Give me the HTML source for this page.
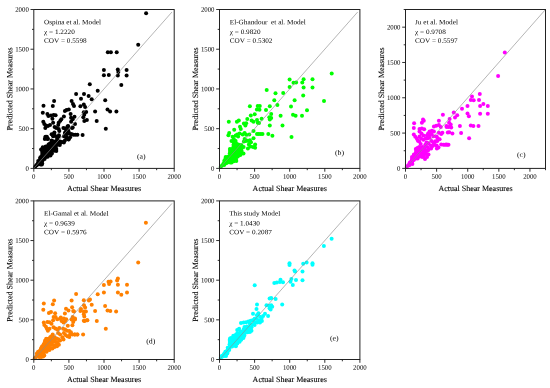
<!DOCTYPE html>
<html><head><meta charset="utf-8"><title>Predicted vs Actual Shear Measures</title>
<style>
html,body{margin:0;padding:0;background:#fff;}
svg{display:block;}
text{font-family:"Liberation Serif","Times New Roman",serif;fill:#000;stroke:none;text-rendering:geometricPrecision;}
.tk{font-size:6.8px;}
.ax{font-size:8px;stroke:#000;stroke-width:0.1px;}
.tt{font-size:6.7px;}
.lb{font-size:7.4px;}
</style></head><body>
<svg width="550" height="388" viewBox="0 0 550 388">
<rect width="550" height="388" fill="#fff"/>

<g id="plot-a">
<g fill="#000000">
<circle cx="146.1" cy="13.2" r="2.0"/>
<circle cx="138.2" cy="44.8" r="2.0"/>
<circle cx="116.7" cy="52.2" r="2.0"/>
<circle cx="117.8" cy="69.6" r="2.0"/>
<circle cx="118.3" cy="71.9" r="2.0"/>
<circle cx="126.6" cy="70.1" r="2.0"/>
<circle cx="117.8" cy="75.4" r="2.0"/>
<circle cx="126.6" cy="75.4" r="2.0"/>
<circle cx="121.3" cy="85.1" r="2.0"/>
<circle cx="116.4" cy="111.4" r="2.0"/>
<circle cx="107.8" cy="52.3" r="2.0"/>
<circle cx="110.9" cy="52.3" r="2.0"/>
<circle cx="103.9" cy="70.1" r="2.0"/>
<circle cx="103.9" cy="75.3" r="2.0"/>
<circle cx="108.8" cy="74.9" r="2.0"/>
<circle cx="89.8" cy="84.2" r="2.0"/>
<circle cx="97.7" cy="90.8" r="2.0"/>
<circle cx="76.1" cy="93.9" r="2.0"/>
<circle cx="84.0" cy="93.9" r="2.0"/>
<circle cx="88.6" cy="96.0" r="2.0"/>
<circle cx="81.0" cy="98.8" r="2.0"/>
<circle cx="91.7" cy="99.3" r="2.0"/>
<circle cx="105.2" cy="100.3" r="2.0"/>
<circle cx="83.8" cy="104.4" r="2.0"/>
<circle cx="85.1" cy="107.0" r="2.0"/>
<circle cx="80.4" cy="106.3" r="2.0"/>
<circle cx="74.0" cy="106.0" r="2.0"/>
<circle cx="107.5" cy="109.6" r="2.0"/>
<circle cx="110.1" cy="111.6" r="2.0"/>
<circle cx="95.1" cy="111.6" r="2.0"/>
<circle cx="83.8" cy="112.2" r="2.0"/>
<circle cx="86.2" cy="111.9" r="2.0"/>
<circle cx="84.3" cy="114.7" r="2.0"/>
<circle cx="83.3" cy="117.3" r="2.0"/>
<circle cx="74.5" cy="116.8" r="2.0"/>
<circle cx="86.9" cy="120.1" r="2.0"/>
<circle cx="84.3" cy="121.1" r="2.0"/>
<circle cx="96.7" cy="121.1" r="2.0"/>
<circle cx="75.0" cy="124.0" r="2.0"/>
<circle cx="105.8" cy="128.7" r="2.0"/>
<circle cx="54.1" cy="101.1" r="2.0"/>
<circle cx="43.5" cy="105.7" r="2.0"/>
<circle cx="52.8" cy="106.0" r="2.0"/>
<circle cx="71.6" cy="101.1" r="2.0"/>
<circle cx="73.0" cy="103.9" r="2.0"/>
<circle cx="64.9" cy="111.1" r="2.0"/>
<circle cx="66.5" cy="110.1" r="2.0"/>
<circle cx="68.8" cy="109.4" r="2.0"/>
<circle cx="82.6" cy="135.0" r="2.0"/>
<circle cx="77.4" cy="134.8" r="2.0"/>
<circle cx="75.3" cy="134.8" r="2.0"/>
<circle cx="73.3" cy="134.8" r="2.0"/>
<circle cx="71.2" cy="134.3" r="2.0"/>
<circle cx="72.0" cy="128.1" r="2.0"/>
<circle cx="68.1" cy="126.0" r="2.0"/>
<circle cx="68.6" cy="139.4" r="2.0"/>
<circle cx="66.1" cy="137.4" r="2.0"/>
<circle cx="68.6" cy="131.7" r="2.0"/>
<circle cx="65.0" cy="128.6" r="2.0"/>
<circle cx="65.5" cy="132.2" r="2.0"/>
<circle cx="66.6" cy="134.3" r="2.0"/>
<circle cx="42.8" cy="112.8" r="2.0"/>
<circle cx="47.4" cy="114.1" r="2.0"/>
<circle cx="70.6" cy="114.1" r="2.0"/>
<circle cx="48.4" cy="116.1" r="2.0"/>
<circle cx="51.0" cy="115.6" r="2.0"/>
<circle cx="53.6" cy="115.1" r="2.0"/>
<circle cx="55.6" cy="115.3" r="2.0"/>
<circle cx="63.9" cy="116.6" r="2.0"/>
<circle cx="61.3" cy="119.2" r="2.0"/>
<circle cx="60.3" cy="120.8" r="2.0"/>
<circle cx="52.4" cy="118.7" r="2.0"/>
<circle cx="71.1" cy="117.7" r="2.0"/>
<circle cx="72.7" cy="119.2" r="2.0"/>
<circle cx="43.3" cy="121.8" r="2.0"/>
<circle cx="44.3" cy="123.9" r="2.0"/>
<circle cx="45.9" cy="125.4" r="2.0"/>
<circle cx="47.9" cy="125.9" r="2.0"/>
<circle cx="50.0" cy="124.9" r="2.0"/>
<circle cx="53.1" cy="122.8" r="2.0"/>
<circle cx="58.7" cy="122.8" r="2.0"/>
<circle cx="58.2" cy="124.9" r="2.0"/>
<circle cx="67.5" cy="126.4" r="2.0"/>
<circle cx="71.1" cy="121.8" r="2.0"/>
<circle cx="45.3" cy="128.0" r="2.0"/>
<circle cx="54.6" cy="126.9" r="2.0"/>
<circle cx="56.2" cy="128.0" r="2.0"/>
<circle cx="58.7" cy="129.0" r="2.0"/>
<circle cx="63.4" cy="128.0" r="2.0"/>
<circle cx="68.0" cy="126.9" r="2.0"/>
<circle cx="72.7" cy="127.5" r="2.0"/>
<circle cx="59.3" cy="131.1" r="2.0"/>
<circle cx="68.0" cy="130.0" r="2.0"/>
<circle cx="66.0" cy="131.6" r="2.0"/>
<circle cx="54.1" cy="133.6" r="2.0"/>
<circle cx="64.9" cy="133.1" r="2.0"/>
<circle cx="69.1" cy="133.6" r="2.0"/>
<circle cx="71.6" cy="134.2" r="2.0"/>
<circle cx="46.9" cy="136.7" r="2.0"/>
<circle cx="44.8" cy="139.0" r="2.0"/>
<circle cx="53.1" cy="136.2" r="2.0"/>
<circle cx="58.7" cy="136.7" r="2.0"/>
<circle cx="63.9" cy="136.2" r="2.0"/>
<circle cx="67.0" cy="137.8" r="2.0"/>
<circle cx="70.1" cy="137.3" r="2.0"/>
<circle cx="64.9" cy="140.4" r="2.0"/>
<circle cx="68.5" cy="139.3" r="2.0"/>
<circle cx="63.9" cy="142.4" r="2.0"/>
<circle cx="51.9" cy="141.1" r="2.0"/>
<circle cx="53.9" cy="141.5" r="2.0"/>
<circle cx="56.5" cy="140.9" r="2.0"/>
<circle cx="57.8" cy="140.8" r="2.0"/>
<circle cx="60.2" cy="141.4" r="2.0"/>
<circle cx="50.3" cy="143.2" r="2.0"/>
<circle cx="52.2" cy="142.6" r="2.0"/>
<circle cx="54.5" cy="143.4" r="2.0"/>
<circle cx="56.6" cy="143.3" r="2.0"/>
<circle cx="58.6" cy="143.4" r="2.0"/>
<circle cx="60.2" cy="142.9" r="2.0"/>
<circle cx="48.3" cy="145.0" r="2.0"/>
<circle cx="50.3" cy="145.3" r="2.0"/>
<circle cx="51.9" cy="145.2" r="2.0"/>
<circle cx="53.8" cy="144.7" r="2.0"/>
<circle cx="56.5" cy="144.8" r="2.0"/>
<circle cx="58.5" cy="144.6" r="2.0"/>
<circle cx="45.7" cy="146.5" r="2.0"/>
<circle cx="48.7" cy="146.7" r="2.0"/>
<circle cx="49.8" cy="146.7" r="2.0"/>
<circle cx="52.5" cy="147.4" r="2.0"/>
<circle cx="53.7" cy="146.9" r="2.0"/>
<circle cx="55.8" cy="146.8" r="2.0"/>
<circle cx="44.4" cy="149.5" r="2.0"/>
<circle cx="45.8" cy="149.2" r="2.0"/>
<circle cx="48.5" cy="148.8" r="2.0"/>
<circle cx="50.0" cy="149.1" r="2.0"/>
<circle cx="52.1" cy="148.7" r="2.0"/>
<circle cx="54.2" cy="148.9" r="2.0"/>
<circle cx="56.3" cy="149.0" r="2.0"/>
<circle cx="42.1" cy="150.8" r="2.0"/>
<circle cx="44.1" cy="151.4" r="2.0"/>
<circle cx="46.3" cy="151.1" r="2.0"/>
<circle cx="48.4" cy="150.9" r="2.0"/>
<circle cx="50.1" cy="151.2" r="2.0"/>
<circle cx="51.7" cy="150.7" r="2.0"/>
<circle cx="54.0" cy="150.7" r="2.0"/>
<circle cx="56.3" cy="150.9" r="2.0"/>
<circle cx="42.2" cy="153.1" r="2.0"/>
<circle cx="44.5" cy="153.4" r="2.0"/>
<circle cx="46.2" cy="152.8" r="2.0"/>
<circle cx="48.2" cy="153.3" r="2.0"/>
<circle cx="50.6" cy="153.3" r="2.0"/>
<circle cx="51.9" cy="153.5" r="2.0"/>
<circle cx="42.0" cy="155.5" r="2.0"/>
<circle cx="43.8" cy="155.4" r="2.0"/>
<circle cx="46.1" cy="154.6" r="2.0"/>
<circle cx="48.0" cy="155.0" r="2.0"/>
<circle cx="50.5" cy="155.4" r="2.0"/>
<circle cx="40.4" cy="157.2" r="2.0"/>
<circle cx="42.6" cy="157.1" r="2.0"/>
<circle cx="44.1" cy="157.0" r="2.0"/>
<circle cx="45.9" cy="157.1" r="2.0"/>
<circle cx="47.7" cy="156.7" r="2.0"/>
<circle cx="40.1" cy="158.8" r="2.0"/>
<circle cx="42.1" cy="158.6" r="2.0"/>
<circle cx="44.6" cy="159.0" r="2.0"/>
<circle cx="38.2" cy="160.9" r="2.0"/>
<circle cx="40.2" cy="161.1" r="2.0"/>
<circle cx="42.4" cy="160.9" r="2.0"/>
<circle cx="37.9" cy="163.5" r="2.0"/>
<circle cx="40.7" cy="162.6" r="2.0"/>
<circle cx="42.1" cy="163.2" r="2.0"/>
<circle cx="36.4" cy="165.3" r="2.0"/>
<circle cx="37.8" cy="164.6" r="2.0"/>
<circle cx="40.6" cy="164.5" r="2.0"/>
<circle cx="41.9" cy="164.5" r="2.0"/>
<circle cx="45.8" cy="136.8" r="2.0"/>
<circle cx="47.4" cy="139.1" r="2.0"/>
<circle cx="41.1" cy="149.6" r="2.0"/>
<circle cx="42.8" cy="147.3" r="2.0"/>
<circle cx="45.3" cy="137.0" r="2.0"/>
<circle cx="48.0" cy="138.8" r="2.0"/>
<circle cx="51.6" cy="134.3" r="2.0"/>
<circle cx="54.4" cy="132.5" r="2.0"/>
<circle cx="55.3" cy="136.1" r="2.0"/>
<circle cx="51.6" cy="140.6" r="2.0"/>
<circle cx="48.9" cy="144.2" r="2.0"/>
<circle cx="46.2" cy="147.3" r="2.0"/>
<circle cx="53.5" cy="143.3" r="2.0"/>
<circle cx="57.1" cy="138.8" r="2.0"/>
<circle cx="58.9" cy="135.2" r="2.0"/>
<circle cx="35.0" cy="167.0" r="2.0"/>
<circle cx="36.3" cy="165.6" r="2.0"/>
<circle cx="37.6" cy="164.1" r="2.0"/>
<circle cx="38.9" cy="162.6" r="2.0"/>
<circle cx="40.2" cy="161.2" r="2.0"/>
<circle cx="41.5" cy="159.7" r="2.0"/>
<circle cx="59.8" cy="145.1" r="2.0"/>
<circle cx="62.1" cy="141.9" r="2.0"/>
</g>
<line x1="33.8" y1="168.4" x2="171.95" y2="12.04" stroke="#8c8c8c" stroke-width="0.65"/>
<rect x="33.8" y="9.5" width="140.4" height="158.9" fill="none" stroke="#222" stroke-width="1"/>
<text class="tk" transform="translate(33.80 178.70) rotate(0.03)" text-anchor="middle">0</text>
<text class="tk" transform="translate(28.80 170.70) rotate(0.03)" text-anchor="end">0</text>
<text class="tk" transform="translate(68.90 178.70) rotate(0.03)" text-anchor="middle">500</text>
<text class="tk" transform="translate(28.80 130.98) rotate(0.03)" text-anchor="end">500</text>
<text class="tk" transform="translate(104.00 178.70) rotate(0.03)" text-anchor="middle">1000</text>
<text class="tk" transform="translate(28.80 91.25) rotate(0.03)" text-anchor="end">1000</text>
<text class="tk" transform="translate(139.10 178.70) rotate(0.03)" text-anchor="middle">1500</text>
<text class="tk" transform="translate(28.80 51.52) rotate(0.03)" text-anchor="end">1500</text>
<text class="tk" transform="translate(174.20 178.70) rotate(0.03)" text-anchor="middle">2000</text>
<text class="tk" transform="translate(28.80 11.80) rotate(0.03)" text-anchor="end">2000</text>
<path d="M33.80 168.4v3.3M33.8 168.40h-3.3M51.35 168.4v1.8M33.8 148.54h-1.8M68.90 168.4v3.3M33.8 128.68h-3.3M86.45 168.4v1.8M33.8 108.81h-1.8M104.00 168.4v3.3M33.8 88.95h-3.3M121.55 168.4v1.8M33.8 69.09h-1.8M139.10 168.4v3.3M33.8 49.22h-3.3M156.65 168.4v1.8M33.8 29.36h-1.8M174.20 168.4v3.3M33.8 9.50h-3.3" stroke="#1a1a1a" stroke-width="0.9" fill="none"/>
<text class="ax" transform="translate(104.00 191.00) rotate(0.03)" text-anchor="middle">Actual Shear Measures</text>
<text class="ax" transform="translate(12.30 88.95) rotate(-89.97)" text-anchor="middle">Predicted Shear Measures</text>
<text class="tt" transform="translate(44.00 24.20) rotate(0.03) scale(1.08 1)" xml:space="preserve">Ospina et al. Model</text>
<text class="tt" transform="translate(44.00 34.10) rotate(0.03) scale(1.08 1)">χ = 1.2220</text>
<text class="tt" transform="translate(44.00 42.80) rotate(0.03) scale(1.08 1)">COV = 0.5598</text>
<text class="lb" transform="translate(137.00 158.70) rotate(0.03) scale(1.06 1)">(a)</text>
</g>
<g id="plot-b">
<g fill="#00ff00">
<circle cx="249.9" cy="140.3" r="2.0"/>
<circle cx="251.0" cy="142.2" r="2.0"/>
<circle cx="255.1" cy="144.4" r="2.0"/>
<circle cx="255.1" cy="147.7" r="2.0"/>
<circle cx="253.0" cy="147.0" r="2.0"/>
<circle cx="250.4" cy="146.5" r="2.0"/>
<circle cx="248.9" cy="144.4" r="2.0"/>
<circle cx="247.9" cy="148.6" r="2.0"/>
<circle cx="249.9" cy="106.2" r="2.0"/>
<circle cx="257.7" cy="106.0" r="2.0"/>
<circle cx="256.9" cy="109.6" r="2.0"/>
<circle cx="266.7" cy="90.0" r="2.0"/>
<circle cx="275.5" cy="93.3" r="2.0"/>
<circle cx="283.2" cy="92.9" r="2.0"/>
<circle cx="274.3" cy="100.3" r="2.0"/>
<circle cx="294.6" cy="100.3" r="2.0"/>
<circle cx="277.4" cy="104.9" r="2.0"/>
<circle cx="269.8" cy="106.2" r="2.0"/>
<circle cx="291.0" cy="106.5" r="2.0"/>
<circle cx="259.8" cy="106.0" r="2.0"/>
<circle cx="259.5" cy="109.8" r="2.0"/>
<circle cx="266.0" cy="109.9" r="2.0"/>
<circle cx="271.2" cy="113.9" r="2.0"/>
<circle cx="280.6" cy="115.8" r="2.0"/>
<circle cx="293.0" cy="114.7" r="2.0"/>
<circle cx="295.6" cy="115.8" r="2.0"/>
<circle cx="269.3" cy="117.3" r="2.0"/>
<circle cx="271.2" cy="118.0" r="2.0"/>
<circle cx="269.8" cy="119.4" r="2.0"/>
<circle cx="261.6" cy="118.7" r="2.0"/>
<circle cx="269.8" cy="125.6" r="2.0"/>
<circle cx="282.5" cy="125.6" r="2.0"/>
<circle cx="259.0" cy="123.0" r="2.0"/>
<circle cx="289.6" cy="79.6" r="2.0"/>
<circle cx="293.5" cy="82.8" r="2.0"/>
<circle cx="296.1" cy="82.5" r="2.0"/>
<circle cx="289.6" cy="87.1" r="2.0"/>
<circle cx="254.7" cy="114.3" r="2.0"/>
<circle cx="250.8" cy="115.5" r="2.0"/>
<circle cx="247.3" cy="119.0" r="2.0"/>
<circle cx="228.8" cy="121.7" r="2.0"/>
<circle cx="236.9" cy="121.7" r="2.0"/>
<circle cx="238.8" cy="120.5" r="2.0"/>
<circle cx="251.6" cy="120.5" r="2.0"/>
<circle cx="253.5" cy="121.7" r="2.0"/>
<circle cx="257.0" cy="120.1" r="2.0"/>
<circle cx="257.8" cy="122.8" r="2.0"/>
<circle cx="243.9" cy="123.6" r="2.0"/>
<circle cx="246.2" cy="123.2" r="2.0"/>
<circle cx="245.4" cy="125.5" r="2.0"/>
<circle cx="240.0" cy="126.7" r="2.0"/>
<circle cx="240.8" cy="129.0" r="2.0"/>
<circle cx="234.2" cy="129.8" r="2.0"/>
<circle cx="253.5" cy="130.9" r="2.0"/>
<circle cx="229.2" cy="132.9" r="2.0"/>
<circle cx="228.4" cy="135.2" r="2.0"/>
<circle cx="237.3" cy="134.4" r="2.0"/>
<circle cx="239.6" cy="133.6" r="2.0"/>
<circle cx="235.7" cy="135.6" r="2.0"/>
<circle cx="238.1" cy="136.4" r="2.0"/>
<circle cx="244.6" cy="132.9" r="2.0"/>
<circle cx="242.7" cy="134.4" r="2.0"/>
<circle cx="246.2" cy="134.8" r="2.0"/>
<circle cx="249.3" cy="134.4" r="2.0"/>
<circle cx="257.0" cy="134.0" r="2.0"/>
<circle cx="232.6" cy="136.7" r="2.0"/>
<circle cx="233.8" cy="139.1" r="2.0"/>
<circle cx="235.0" cy="141.0" r="2.0"/>
<circle cx="253.5" cy="138.3" r="2.0"/>
<circle cx="244.6" cy="139.1" r="2.0"/>
<circle cx="246.6" cy="140.6" r="2.0"/>
<circle cx="248.5" cy="141.0" r="2.0"/>
<circle cx="231.5" cy="141.0" r="2.0"/>
<circle cx="233.7" cy="141.4" r="2.0"/>
<circle cx="235.6" cy="141.1" r="2.0"/>
<circle cx="243.9" cy="141.4" r="2.0"/>
<circle cx="245.5" cy="141.1" r="2.0"/>
<circle cx="233.9" cy="142.6" r="2.0"/>
<circle cx="236.2" cy="143.4" r="2.0"/>
<circle cx="233.5" cy="144.7" r="2.0"/>
<circle cx="236.2" cy="144.8" r="2.0"/>
<circle cx="238.2" cy="144.6" r="2.0"/>
<circle cx="239.5" cy="145.2" r="2.0"/>
<circle cx="241.4" cy="145.1" r="2.0"/>
<circle cx="233.5" cy="146.8" r="2.0"/>
<circle cx="235.6" cy="147.1" r="2.0"/>
<circle cx="237.8" cy="146.7" r="2.0"/>
<circle cx="239.9" cy="146.5" r="2.0"/>
<circle cx="241.5" cy="147.5" r="2.0"/>
<circle cx="243.6" cy="146.9" r="2.0"/>
<circle cx="229.9" cy="148.9" r="2.0"/>
<circle cx="232.0" cy="149.0" r="2.0"/>
<circle cx="233.7" cy="148.9" r="2.0"/>
<circle cx="236.2" cy="148.8" r="2.0"/>
<circle cx="238.0" cy="148.5" r="2.0"/>
<circle cx="240.1" cy="148.8" r="2.0"/>
<circle cx="241.4" cy="148.8" r="2.0"/>
<circle cx="230.0" cy="150.9" r="2.0"/>
<circle cx="232.3" cy="151.1" r="2.0"/>
<circle cx="233.8" cy="150.9" r="2.0"/>
<circle cx="236.1" cy="150.9" r="2.0"/>
<circle cx="238.1" cy="150.5" r="2.0"/>
<circle cx="239.8" cy="150.8" r="2.0"/>
<circle cx="241.6" cy="151.0" r="2.0"/>
<circle cx="229.8" cy="153.2" r="2.0"/>
<circle cx="231.7" cy="152.7" r="2.0"/>
<circle cx="234.1" cy="152.5" r="2.0"/>
<circle cx="236.2" cy="153.0" r="2.0"/>
<circle cx="237.5" cy="152.6" r="2.0"/>
<circle cx="240.0" cy="153.4" r="2.0"/>
<circle cx="241.7" cy="153.5" r="2.0"/>
<circle cx="243.5" cy="153.4" r="2.0"/>
<circle cx="230.1" cy="155.1" r="2.0"/>
<circle cx="232.3" cy="155.4" r="2.0"/>
<circle cx="234.3" cy="154.5" r="2.0"/>
<circle cx="236.1" cy="155.2" r="2.0"/>
<circle cx="238.1" cy="155.2" r="2.0"/>
<circle cx="240.3" cy="155.1" r="2.0"/>
<circle cx="225.7" cy="156.9" r="2.0"/>
<circle cx="227.9" cy="156.8" r="2.0"/>
<circle cx="229.9" cy="156.7" r="2.0"/>
<circle cx="231.4" cy="156.7" r="2.0"/>
<circle cx="233.9" cy="156.6" r="2.0"/>
<circle cx="235.8" cy="156.8" r="2.0"/>
<circle cx="237.8" cy="156.6" r="2.0"/>
<circle cx="225.5" cy="158.6" r="2.0"/>
<circle cx="228.1" cy="158.6" r="2.0"/>
<circle cx="229.4" cy="158.9" r="2.0"/>
<circle cx="231.9" cy="158.9" r="2.0"/>
<circle cx="233.9" cy="159.1" r="2.0"/>
<circle cx="236.1" cy="158.9" r="2.0"/>
<circle cx="224.3" cy="160.7" r="2.0"/>
<circle cx="225.5" cy="160.7" r="2.0"/>
<circle cx="227.8" cy="161.0" r="2.0"/>
<circle cx="229.6" cy="161.5" r="2.0"/>
<circle cx="232.4" cy="160.6" r="2.0"/>
<circle cx="233.8" cy="161.2" r="2.0"/>
<circle cx="236.3" cy="161.0" r="2.0"/>
<circle cx="224.2" cy="163.1" r="2.0"/>
<circle cx="226.1" cy="163.3" r="2.0"/>
<circle cx="227.5" cy="162.6" r="2.0"/>
<circle cx="230.3" cy="162.5" r="2.0"/>
<circle cx="231.6" cy="162.5" r="2.0"/>
<circle cx="224.2" cy="165.0" r="2.0"/>
<circle cx="258.7" cy="133.9" r="2.0"/>
<circle cx="260.6" cy="133.9" r="2.0"/>
<circle cx="262.5" cy="133.9" r="2.0"/>
<circle cx="268.3" cy="133.9" r="2.0"/>
<circle cx="272.4" cy="135.7" r="2.0"/>
<circle cx="291.5" cy="137.1" r="2.0"/>
<circle cx="331.7" cy="73.5" r="2.0"/>
<circle cx="303.6" cy="79.3" r="2.0"/>
<circle cx="302.3" cy="82.4" r="2.0"/>
<circle cx="312.5" cy="79.3" r="2.0"/>
<circle cx="303.6" cy="87.5" r="2.0"/>
<circle cx="312.5" cy="87.4" r="2.0"/>
<circle cx="303.2" cy="95.6" r="2.0"/>
<circle cx="324.0" cy="101.0" r="2.0"/>
<circle cx="307.0" cy="110.3" r="2.0"/>
<circle cx="302.0" cy="115.7" r="2.0"/>
<circle cx="220.7" cy="167.0" r="2.0"/>
<circle cx="222.0" cy="165.6" r="2.0"/>
<circle cx="223.3" cy="164.1" r="2.0"/>
<circle cx="224.6" cy="162.6" r="2.0"/>
<circle cx="225.9" cy="161.2" r="2.0"/>
<circle cx="227.2" cy="159.7" r="2.0"/>
</g>
<line x1="219.5" y1="168.4" x2="357.65" y2="12.04" stroke="#8c8c8c" stroke-width="0.65"/>
<rect x="219.5" y="9.5" width="140.4" height="158.9" fill="none" stroke="#222" stroke-width="1"/>
<text class="tk" transform="translate(219.50 178.70) rotate(0.03)" text-anchor="middle">0</text>
<text class="tk" transform="translate(214.50 170.70) rotate(0.03)" text-anchor="end">0</text>
<text class="tk" transform="translate(254.60 178.70) rotate(0.03)" text-anchor="middle">500</text>
<text class="tk" transform="translate(214.50 130.98) rotate(0.03)" text-anchor="end">500</text>
<text class="tk" transform="translate(289.70 178.70) rotate(0.03)" text-anchor="middle">1000</text>
<text class="tk" transform="translate(214.50 91.25) rotate(0.03)" text-anchor="end">1000</text>
<text class="tk" transform="translate(324.80 178.70) rotate(0.03)" text-anchor="middle">1500</text>
<text class="tk" transform="translate(214.50 51.52) rotate(0.03)" text-anchor="end">1500</text>
<text class="tk" transform="translate(359.90 178.70) rotate(0.03)" text-anchor="middle">2000</text>
<text class="tk" transform="translate(214.50 11.80) rotate(0.03)" text-anchor="end">2000</text>
<path d="M219.50 168.4v3.3M219.5 168.40h-3.3M237.05 168.4v1.8M219.5 148.54h-1.8M254.60 168.4v3.3M219.5 128.68h-3.3M272.15 168.4v1.8M219.5 108.81h-1.8M289.70 168.4v3.3M219.5 88.95h-3.3M307.25 168.4v1.8M219.5 69.09h-1.8M324.80 168.4v3.3M219.5 49.22h-3.3M342.35 168.4v1.8M219.5 29.36h-1.8M359.90 168.4v3.3M219.5 9.50h-3.3" stroke="#1a1a1a" stroke-width="0.9" fill="none"/>
<text class="ax" transform="translate(289.70 191.00) rotate(0.03)" text-anchor="middle">Actual Shear Measures</text>
<text class="ax" transform="translate(198.00 88.95) rotate(-89.97)" text-anchor="middle">Predicted Shear Measures</text>
<text class="tt" transform="translate(229.80 24.20) rotate(0.03) scale(1.08 1)" xml:space="preserve">El-Ghandour  et al. Model</text>
<text class="tt" transform="translate(229.80 34.10) rotate(0.03) scale(1.08 1)">χ = 0.9820</text>
<text class="tt" transform="translate(229.80 42.80) rotate(0.03) scale(1.08 1)">COV = 0.5302</text>
<text class="lb" transform="translate(335.00 154.90) rotate(0.03) scale(1.06 1)">(b)</text>
</g>
<g id="plot-c">
<g fill="#ff00ff">
<circle cx="413.8" cy="134.6" r="2.0"/>
<circle cx="415.3" cy="136.7" r="2.0"/>
<circle cx="416.9" cy="138.8" r="2.0"/>
<circle cx="417.9" cy="140.8" r="2.0"/>
<circle cx="442.9" cy="114.7" r="2.0"/>
<circle cx="423.0" cy="119.4" r="2.0"/>
<circle cx="414.1" cy="123.2" r="2.0"/>
<circle cx="413.8" cy="127.9" r="2.0"/>
<circle cx="479.8" cy="93.9" r="2.0"/>
<circle cx="472.0" cy="96.4" r="2.0"/>
<circle cx="470.8" cy="100.1" r="2.0"/>
<circle cx="473.7" cy="100.3" r="2.0"/>
<circle cx="479.0" cy="100.1" r="2.0"/>
<circle cx="483.4" cy="103.9" r="2.0"/>
<circle cx="480.1" cy="106.0" r="2.0"/>
<circle cx="467.5" cy="106.0" r="2.0"/>
<circle cx="462.0" cy="108.8" r="2.0"/>
<circle cx="453.8" cy="112.5" r="2.0"/>
<circle cx="467.5" cy="113.5" r="2.0"/>
<circle cx="468.9" cy="116.3" r="2.0"/>
<circle cx="480.1" cy="113.7" r="2.0"/>
<circle cx="457.2" cy="115.3" r="2.0"/>
<circle cx="455.0" cy="117.6" r="2.0"/>
<circle cx="449.6" cy="118.9" r="2.0"/>
<circle cx="449.1" cy="122.8" r="2.0"/>
<circle cx="450.7" cy="124.5" r="2.0"/>
<circle cx="446.5" cy="126.1" r="2.0"/>
<circle cx="448.6" cy="127.1" r="2.0"/>
<circle cx="451.2" cy="127.6" r="2.0"/>
<circle cx="459.9" cy="126.1" r="2.0"/>
<circle cx="470.8" cy="125.6" r="2.0"/>
<circle cx="473.4" cy="126.1" r="2.0"/>
<circle cx="478.5" cy="126.1" r="2.0"/>
<circle cx="421.9" cy="122.7" r="2.0"/>
<circle cx="423.8" cy="120.8" r="2.0"/>
<circle cx="438.9" cy="120.8" r="2.0"/>
<circle cx="433.9" cy="126.6" r="2.0"/>
<circle cx="436.2" cy="125.8" r="2.0"/>
<circle cx="438.9" cy="125.0" r="2.0"/>
<circle cx="440.8" cy="127.0" r="2.0"/>
<circle cx="446.6" cy="127.0" r="2.0"/>
<circle cx="419.5" cy="128.9" r="2.0"/>
<circle cx="421.9" cy="128.5" r="2.0"/>
<circle cx="424.2" cy="129.3" r="2.0"/>
<circle cx="419.5" cy="131.6" r="2.0"/>
<circle cx="421.5" cy="133.5" r="2.0"/>
<circle cx="423.4" cy="135.5" r="2.0"/>
<circle cx="429.6" cy="131.6" r="2.0"/>
<circle cx="431.9" cy="130.8" r="2.0"/>
<circle cx="433.9" cy="131.6" r="2.0"/>
<circle cx="428.1" cy="133.5" r="2.0"/>
<circle cx="426.9" cy="135.5" r="2.0"/>
<circle cx="429.6" cy="135.1" r="2.0"/>
<circle cx="431.5" cy="133.9" r="2.0"/>
<circle cx="438.9" cy="132.8" r="2.0"/>
<circle cx="441.2" cy="133.9" r="2.0"/>
<circle cx="442.4" cy="132.8" r="2.0"/>
<circle cx="447.8" cy="132.4" r="2.0"/>
<circle cx="433.5" cy="136.2" r="2.0"/>
<circle cx="436.6" cy="136.6" r="2.0"/>
<circle cx="437.7" cy="138.2" r="2.0"/>
<circle cx="439.6" cy="139.3" r="2.0"/>
<circle cx="419.5" cy="136.6" r="2.0"/>
<circle cx="421.1" cy="138.6" r="2.0"/>
<circle cx="423.4" cy="139.7" r="2.0"/>
<circle cx="425.7" cy="138.6" r="2.0"/>
<circle cx="427.7" cy="138.2" r="2.0"/>
<circle cx="429.6" cy="137.8" r="2.0"/>
<circle cx="419.2" cy="141.6" r="2.0"/>
<circle cx="420.7" cy="144.0" r="2.0"/>
<circle cx="426.5" cy="142.4" r="2.0"/>
<circle cx="428.4" cy="143.2" r="2.0"/>
<circle cx="425.3" cy="144.7" r="2.0"/>
<circle cx="431.5" cy="140.9" r="2.0"/>
<circle cx="433.5" cy="142.4" r="2.0"/>
<circle cx="435.4" cy="141.3" r="2.0"/>
<circle cx="437.3" cy="140.9" r="2.0"/>
<circle cx="441.2" cy="144.4" r="2.0"/>
<circle cx="443.5" cy="144.7" r="2.0"/>
<circle cx="445.1" cy="144.7" r="2.0"/>
<circle cx="447.4" cy="144.7" r="2.0"/>
<circle cx="430.8" cy="145.5" r="2.0"/>
<circle cx="432.7" cy="145.9" r="2.0"/>
<circle cx="434.6" cy="144.7" r="2.0"/>
<circle cx="436.6" cy="145.5" r="2.0"/>
<circle cx="422.6" cy="147.1" r="2.0"/>
<circle cx="424.6" cy="147.8" r="2.0"/>
<circle cx="427.3" cy="147.1" r="2.0"/>
<circle cx="438.5" cy="147.4" r="2.0"/>
<circle cx="436.9" cy="148.6" r="2.0"/>
<circle cx="428.8" cy="149.0" r="2.0"/>
<circle cx="431.1" cy="148.6" r="2.0"/>
<circle cx="419.2" cy="147.1" r="2.0"/>
<circle cx="420.3" cy="148.6" r="2.0"/>
<circle cx="415.8" cy="149.0" r="2.0"/>
<circle cx="417.4" cy="148.0" r="2.0"/>
<circle cx="416.1" cy="151.0" r="2.0"/>
<circle cx="417.5" cy="150.7" r="2.0"/>
<circle cx="420.2" cy="150.3" r="2.0"/>
<circle cx="421.7" cy="150.6" r="2.0"/>
<circle cx="423.8" cy="150.2" r="2.0"/>
<circle cx="425.9" cy="150.4" r="2.0"/>
<circle cx="428.0" cy="150.5" r="2.0"/>
<circle cx="415.8" cy="152.9" r="2.0"/>
<circle cx="418.0" cy="152.6" r="2.0"/>
<circle cx="420.1" cy="152.4" r="2.0"/>
<circle cx="421.8" cy="152.7" r="2.0"/>
<circle cx="423.4" cy="152.2" r="2.0"/>
<circle cx="425.7" cy="152.2" r="2.0"/>
<circle cx="413.9" cy="154.6" r="2.0"/>
<circle cx="416.2" cy="154.9" r="2.0"/>
<circle cx="417.9" cy="154.3" r="2.0"/>
<circle cx="419.9" cy="154.8" r="2.0"/>
<circle cx="422.3" cy="154.8" r="2.0"/>
<circle cx="423.6" cy="155.0" r="2.0"/>
<circle cx="426.0" cy="154.1" r="2.0"/>
<circle cx="412.0" cy="156.9" r="2.0"/>
<circle cx="413.7" cy="157.0" r="2.0"/>
<circle cx="415.5" cy="156.9" r="2.0"/>
<circle cx="417.8" cy="156.1" r="2.0"/>
<circle cx="419.7" cy="156.5" r="2.0"/>
<circle cx="422.2" cy="156.9" r="2.0"/>
<circle cx="423.5" cy="156.5" r="2.0"/>
<circle cx="412.1" cy="158.7" r="2.0"/>
<circle cx="414.3" cy="158.6" r="2.0"/>
<circle cx="415.8" cy="158.5" r="2.0"/>
<circle cx="417.6" cy="158.6" r="2.0"/>
<circle cx="411.8" cy="160.3" r="2.0"/>
<circle cx="413.8" cy="160.1" r="2.0"/>
<circle cx="409.9" cy="162.4" r="2.0"/>
<circle cx="411.9" cy="162.6" r="2.0"/>
<circle cx="409.6" cy="165.0" r="2.0"/>
<circle cx="412.4" cy="164.1" r="2.0"/>
<circle cx="461.1" cy="132.9" r="2.0"/>
<circle cx="469.1" cy="138.3" r="2.0"/>
<circle cx="448.5" cy="144.7" r="2.0"/>
<circle cx="446.3" cy="144.6" r="2.0"/>
<circle cx="449.2" cy="132.2" r="2.0"/>
<circle cx="452.4" cy="133.5" r="2.0"/>
<circle cx="498.1" cy="75.9" r="2.0"/>
<circle cx="487.8" cy="105.9" r="2.0"/>
<circle cx="487.8" cy="113.7" r="2.0"/>
<circle cx="504.8" cy="52.5" r="2.0"/>
<circle cx="406.7" cy="167.0" r="2.0"/>
<circle cx="408.0" cy="165.6" r="2.0"/>
<circle cx="409.3" cy="164.1" r="2.0"/>
<circle cx="410.6" cy="162.6" r="2.0"/>
<circle cx="411.9" cy="161.1" r="2.0"/>
<circle cx="413.2" cy="159.7" r="2.0"/>
<circle cx="414.5" cy="158.2" r="2.0"/>
<circle cx="415.8" cy="156.7" r="2.0"/>
<circle cx="417.1" cy="155.2" r="2.0"/>
<circle cx="418.4" cy="153.8" r="2.0"/>
<circle cx="419.7" cy="152.3" r="2.0"/>
<circle cx="427.0" cy="157.0" r="2.0"/>
<circle cx="425.0" cy="159.0" r="2.0"/>
<circle cx="428.5" cy="154.5" r="2.0"/>
</g>
<line x1="405.5" y1="168.4" x2="545.50" y2="9.50" stroke="#8c8c8c" stroke-width="0.65"/>
<rect x="405.5" y="9.5" width="140.0" height="158.9" fill="none" stroke="#222" stroke-width="1"/>
<text class="tk" transform="translate(405.50 178.70) rotate(0.03)" text-anchor="middle">0</text>
<text class="tk" transform="translate(400.50 170.70) rotate(0.03)" text-anchor="end">0</text>
<text class="tk" transform="translate(436.61 178.70) rotate(0.03)" text-anchor="middle">500</text>
<text class="tk" transform="translate(400.50 135.39) rotate(0.03)" text-anchor="end">500</text>
<text class="tk" transform="translate(467.72 178.70) rotate(0.03)" text-anchor="middle">1000</text>
<text class="tk" transform="translate(400.50 100.08) rotate(0.03)" text-anchor="end">1000</text>
<text class="tk" transform="translate(498.83 178.70) rotate(0.03)" text-anchor="middle">1500</text>
<text class="tk" transform="translate(400.50 64.77) rotate(0.03)" text-anchor="end">1500</text>
<text class="tk" transform="translate(529.94 178.70) rotate(0.03)" text-anchor="middle">2000</text>
<text class="tk" transform="translate(400.50 29.46) rotate(0.03)" text-anchor="end">2000</text>
<path d="M405.50 168.4v3.3M405.5 168.40h-3.3M421.06 168.4v1.8M405.5 150.74h-1.8M436.61 168.4v3.3M405.5 133.09h-3.3M452.17 168.4v1.8M405.5 115.43h-1.8M467.72 168.4v3.3M405.5 97.78h-3.3M483.28 168.4v1.8M405.5 80.12h-1.8M498.83 168.4v3.3M405.5 62.47h-3.3M514.39 168.4v1.8M405.5 44.81h-1.8M529.94 168.4v3.3M405.5 27.16h-3.3M545.50 168.4v1.8M405.5 9.50h-1.8" stroke="#1a1a1a" stroke-width="0.9" fill="none"/>
<text class="ax" transform="translate(475.50 191.00) rotate(0.03)" text-anchor="middle">Actual Shear Measures</text>
<text class="ax" transform="translate(384.00 88.95) rotate(-89.97)" text-anchor="middle">Predicted Shear Measures</text>
<text class="tt" transform="translate(415.00 24.20) rotate(0.03) scale(1.08 1)" xml:space="preserve">Ju et al. Model</text>
<text class="tt" transform="translate(415.00 34.10) rotate(0.03) scale(1.08 1)">χ = 0.9708</text>
<text class="tt" transform="translate(415.00 42.80) rotate(0.03) scale(1.08 1)">COV = 0.5597</text>
<text class="lb" transform="translate(517.00 156.90) rotate(0.03) scale(1.06 1)">(c)</text>
</g>
<g id="plot-d">
<g fill="#ff8000">
<circle cx="34.8" cy="358.3" r="2.0"/>
<circle cx="36.1" cy="356.9" r="2.0"/>
<circle cx="37.3" cy="355.2" r="2.0"/>
<circle cx="36.9" cy="353.5" r="2.0"/>
<circle cx="38.6" cy="353.8" r="2.0"/>
<circle cx="40.4" cy="354.5" r="2.0"/>
<circle cx="38.1" cy="351.7" r="2.0"/>
<circle cx="40.0" cy="351.9" r="2.0"/>
<circle cx="41.7" cy="352.4" r="2.0"/>
<circle cx="43.5" cy="353.2" r="2.0"/>
<circle cx="40.0" cy="350.4" r="2.0"/>
<circle cx="41.0" cy="350.1" r="2.0"/>
<circle cx="42.9" cy="350.5" r="2.0"/>
<circle cx="44.7" cy="351.1" r="2.0"/>
<circle cx="46.6" cy="351.7" r="2.0"/>
<circle cx="41.0" cy="348.3" r="2.0"/>
<circle cx="42.0" cy="348.0" r="2.0"/>
<circle cx="43.9" cy="348.4" r="2.0"/>
<circle cx="45.8" cy="349.0" r="2.0"/>
<circle cx="47.6" cy="349.7" r="2.0"/>
<circle cx="49.5" cy="350.1" r="2.0"/>
<circle cx="42.0" cy="346.5" r="2.0"/>
<circle cx="43.1" cy="346.2" r="2.0"/>
<circle cx="44.9" cy="346.6" r="2.0"/>
<circle cx="46.8" cy="347.0" r="2.0"/>
<circle cx="48.6" cy="347.6" r="2.0"/>
<circle cx="50.5" cy="348.0" r="2.0"/>
<circle cx="52.4" cy="348.4" r="2.0"/>
<circle cx="43.6" cy="344.6" r="2.0"/>
<circle cx="44.6" cy="344.3" r="2.0"/>
<circle cx="46.5" cy="344.7" r="2.0"/>
<circle cx="48.3" cy="345.1" r="2.0"/>
<circle cx="44.6" cy="342.6" r="2.0"/>
<circle cx="46.5" cy="343.0" r="2.0"/>
<circle cx="47.5" cy="342.6" r="2.0"/>
<circle cx="49.4" cy="343.1" r="2.0"/>
<circle cx="45.1" cy="340.5" r="2.0"/>
<circle cx="47.0" cy="340.9" r="2.0"/>
<circle cx="48.0" cy="340.6" r="2.0"/>
<circle cx="49.9" cy="341.0" r="2.0"/>
<circle cx="46.2" cy="338.7" r="2.0"/>
<circle cx="48.0" cy="339.0" r="2.0"/>
<circle cx="49.1" cy="338.7" r="2.0"/>
<circle cx="50.3" cy="337.2" r="2.0"/>
<circle cx="43.8" cy="322.5" r="2.0"/>
<circle cx="44.3" cy="325.1" r="2.0"/>
<circle cx="45.9" cy="326.7" r="2.0"/>
<circle cx="46.9" cy="328.7" r="2.0"/>
<circle cx="47.9" cy="330.8" r="2.0"/>
<circle cx="49.5" cy="328.7" r="2.0"/>
<circle cx="47.4" cy="322.0" r="2.0"/>
<circle cx="49.5" cy="322.2" r="2.0"/>
<circle cx="39.2" cy="357.1" r="2.0"/>
<circle cx="41.2" cy="356.9" r="2.0"/>
<circle cx="43.1" cy="356.6" r="2.0"/>
<circle cx="44.3" cy="355.5" r="2.0"/>
<circle cx="54.1" cy="300.4" r="2.0"/>
<circle cx="43.8" cy="303.5" r="2.0"/>
<circle cx="52.8" cy="304.2" r="2.0"/>
<circle cx="71.6" cy="300.6" r="2.0"/>
<circle cx="43.3" cy="309.7" r="2.0"/>
<circle cx="66.0" cy="308.8" r="2.0"/>
<circle cx="68.5" cy="310.4" r="2.0"/>
<circle cx="72.1" cy="307.3" r="2.0"/>
<circle cx="73.2" cy="310.9" r="2.0"/>
<circle cx="48.9" cy="313.0" r="2.0"/>
<circle cx="51.0" cy="311.9" r="2.0"/>
<circle cx="55.1" cy="313.2" r="2.0"/>
<circle cx="64.9" cy="313.5" r="2.0"/>
<circle cx="53.6" cy="317.1" r="2.0"/>
<circle cx="55.6" cy="317.1" r="2.0"/>
<circle cx="60.8" cy="317.6" r="2.0"/>
<circle cx="63.9" cy="318.6" r="2.0"/>
<circle cx="72.7" cy="317.1" r="2.0"/>
<circle cx="108.5" cy="281.8" r="2.0"/>
<circle cx="110.6" cy="281.5" r="2.0"/>
<circle cx="109.1" cy="283.9" r="2.0"/>
<circle cx="103.9" cy="284.9" r="2.0"/>
<circle cx="103.9" cy="292.5" r="2.0"/>
<circle cx="97.7" cy="294.2" r="2.0"/>
<circle cx="76.1" cy="293.9" r="2.0"/>
<circle cx="83.8" cy="300.3" r="2.0"/>
<circle cx="88.9" cy="300.6" r="2.0"/>
<circle cx="90.0" cy="299.6" r="2.0"/>
<circle cx="91.7" cy="304.7" r="2.0"/>
<circle cx="105.1" cy="306.1" r="2.0"/>
<circle cx="84.0" cy="305.2" r="2.0"/>
<circle cx="85.1" cy="307.6" r="2.0"/>
<circle cx="81.0" cy="309.0" r="2.0"/>
<circle cx="80.4" cy="311.1" r="2.0"/>
<circle cx="83.8" cy="311.4" r="2.0"/>
<circle cx="85.9" cy="311.4" r="2.0"/>
<circle cx="95.1" cy="311.1" r="2.0"/>
<circle cx="107.5" cy="310.4" r="2.0"/>
<circle cx="110.3" cy="311.1" r="2.0"/>
<circle cx="83.8" cy="314.2" r="2.0"/>
<circle cx="84.3" cy="316.6" r="2.0"/>
<circle cx="74.0" cy="311.4" r="2.0"/>
<circle cx="75.0" cy="318.6" r="2.0"/>
<circle cx="87.4" cy="320.2" r="2.0"/>
<circle cx="83.8" cy="320.7" r="2.0"/>
<circle cx="53.1" cy="320.3" r="2.0"/>
<circle cx="51.5" cy="323.8" r="2.0"/>
<circle cx="57.3" cy="319.2" r="2.0"/>
<circle cx="60.1" cy="318.8" r="2.0"/>
<circle cx="61.6" cy="321.1" r="2.0"/>
<circle cx="63.5" cy="322.6" r="2.0"/>
<circle cx="65.1" cy="321.1" r="2.0"/>
<circle cx="66.2" cy="319.2" r="2.0"/>
<circle cx="71.6" cy="319.5" r="2.0"/>
<circle cx="73.2" cy="321.9" r="2.0"/>
<circle cx="72.4" cy="325.3" r="2.0"/>
<circle cx="67.8" cy="325.7" r="2.0"/>
<circle cx="74.7" cy="319.2" r="2.0"/>
<circle cx="53.5" cy="327.3" r="2.0"/>
<circle cx="55.4" cy="328.4" r="2.0"/>
<circle cx="57.3" cy="329.6" r="2.0"/>
<circle cx="59.3" cy="328.1" r="2.0"/>
<circle cx="63.1" cy="328.8" r="2.0"/>
<circle cx="65.1" cy="329.6" r="2.0"/>
<circle cx="67.0" cy="330.8" r="2.0"/>
<circle cx="69.3" cy="331.1" r="2.0"/>
<circle cx="70.9" cy="332.3" r="2.0"/>
<circle cx="52.7" cy="334.6" r="2.0"/>
<circle cx="51.2" cy="336.6" r="2.0"/>
<circle cx="58.1" cy="333.1" r="2.0"/>
<circle cx="60.1" cy="334.6" r="2.0"/>
<circle cx="63.9" cy="333.1" r="2.0"/>
<circle cx="65.5" cy="335.0" r="2.0"/>
<circle cx="67.4" cy="336.2" r="2.0"/>
<circle cx="69.3" cy="336.9" r="2.0"/>
<circle cx="70.1" cy="334.2" r="2.0"/>
<circle cx="72.4" cy="334.4" r="2.0"/>
<circle cx="74.7" cy="334.4" r="2.0"/>
<circle cx="77.1" cy="334.4" r="2.0"/>
<circle cx="62.4" cy="337.3" r="2.0"/>
<circle cx="63.5" cy="339.6" r="2.0"/>
<circle cx="54.6" cy="337.3" r="2.0"/>
<circle cx="56.6" cy="338.5" r="2.0"/>
<circle cx="58.5" cy="339.3" r="2.0"/>
<circle cx="60.1" cy="340.4" r="2.0"/>
<circle cx="51.5" cy="340.4" r="2.0"/>
<circle cx="53.5" cy="341.2" r="2.0"/>
<circle cx="55.8" cy="342.0" r="2.0"/>
<circle cx="57.7" cy="342.7" r="2.0"/>
<circle cx="58.9" cy="344.7" r="2.0"/>
<circle cx="51.2" cy="344.3" r="2.0"/>
<circle cx="53.1" cy="345.1" r="2.0"/>
<circle cx="57.0" cy="346.2" r="2.0"/>
<circle cx="54.6" cy="347.0" r="2.0"/>
<circle cx="49.3" cy="338.5" r="2.0"/>
<circle cx="50.9" cy="338.3" r="2.0"/>
<circle cx="54.6" cy="339.4" r="2.0"/>
<circle cx="46.9" cy="341.9" r="2.0"/>
<circle cx="48.2" cy="340.9" r="2.0"/>
<circle cx="51.9" cy="341.8" r="2.0"/>
<circle cx="54.6" cy="340.8" r="2.0"/>
<circle cx="46.6" cy="344.6" r="2.0"/>
<circle cx="49.6" cy="344.5" r="2.0"/>
<circle cx="51.6" cy="344.7" r="2.0"/>
<circle cx="55.5" cy="345.2" r="2.0"/>
<circle cx="43.5" cy="347.0" r="2.0"/>
<circle cx="46.5" cy="346.6" r="2.0"/>
<circle cx="48.2" cy="347.7" r="2.0"/>
<circle cx="43.8" cy="349.6" r="2.0"/>
<circle cx="45.2" cy="349.7" r="2.0"/>
<circle cx="84.6" cy="321.0" r="2.0"/>
<circle cx="86.9" cy="320.3" r="2.0"/>
<circle cx="96.8" cy="321.0" r="2.0"/>
<circle cx="105.8" cy="328.8" r="2.0"/>
<circle cx="83.1" cy="334.4" r="2.0"/>
<circle cx="77.5" cy="334.4" r="2.0"/>
<circle cx="74.9" cy="334.4" r="2.0"/>
<circle cx="116.1" cy="311.6" r="2.0"/>
<circle cx="74.9" cy="319.4" r="2.0"/>
<circle cx="117.9" cy="278.6" r="2.0"/>
<circle cx="117.1" cy="280.5" r="2.0"/>
<circle cx="117.9" cy="284.8" r="2.0"/>
<circle cx="127.0" cy="284.8" r="2.0"/>
<circle cx="117.9" cy="292.5" r="2.0"/>
<circle cx="121.3" cy="294.8" r="2.0"/>
<circle cx="127.0" cy="292.5" r="2.0"/>
<circle cx="145.9" cy="222.7" r="2.0"/>
<circle cx="138.2" cy="262.6" r="2.0"/>
</g>
<line x1="33.8" y1="359.5" x2="171.95" y2="203.44" stroke="#8c8c8c" stroke-width="0.65"/>
<rect x="33.8" y="200.9" width="140.4" height="158.6" fill="none" stroke="#222" stroke-width="1"/>
<text class="tk" transform="translate(33.80 369.80) rotate(0.03)" text-anchor="middle">0</text>
<text class="tk" transform="translate(28.80 361.80) rotate(0.03)" text-anchor="end">0</text>
<text class="tk" transform="translate(68.90 369.80) rotate(0.03)" text-anchor="middle">500</text>
<text class="tk" transform="translate(28.80 322.15) rotate(0.03)" text-anchor="end">500</text>
<text class="tk" transform="translate(104.00 369.80) rotate(0.03)" text-anchor="middle">1000</text>
<text class="tk" transform="translate(28.80 282.50) rotate(0.03)" text-anchor="end">1000</text>
<text class="tk" transform="translate(139.10 369.80) rotate(0.03)" text-anchor="middle">1500</text>
<text class="tk" transform="translate(28.80 242.85) rotate(0.03)" text-anchor="end">1500</text>
<text class="tk" transform="translate(174.20 369.80) rotate(0.03)" text-anchor="middle">2000</text>
<text class="tk" transform="translate(28.80 203.20) rotate(0.03)" text-anchor="end">2000</text>
<path d="M33.80 359.5v3.3M33.8 359.50h-3.3M51.35 359.5v1.8M33.8 339.68h-1.8M68.90 359.5v3.3M33.8 319.85h-3.3M86.45 359.5v1.8M33.8 300.02h-1.8M104.00 359.5v3.3M33.8 280.20h-3.3M121.55 359.5v1.8M33.8 260.38h-1.8M139.10 359.5v3.3M33.8 240.55h-3.3M156.65 359.5v1.8M33.8 220.72h-1.8M174.20 359.5v3.3M33.8 200.90h-3.3" stroke="#1a1a1a" stroke-width="0.9" fill="none"/>
<text class="ax" transform="translate(104.00 382.10) rotate(0.03)" text-anchor="middle">Actual Shear Measures</text>
<text class="ax" transform="translate(12.30 280.20) rotate(-89.97)" text-anchor="middle">Predicted Shear Measures</text>
<text class="tt" transform="translate(44.00 215.60) rotate(0.03) scale(1.08 1)" xml:space="preserve">El-Gamal et al. Model</text>
<text class="tt" transform="translate(44.00 225.50) rotate(0.03) scale(1.08 1)">χ = 0.9639</text>
<text class="tt" transform="translate(44.00 234.20) rotate(0.03) scale(1.08 1)">COV = 0.5976</text>
<text class="lb" transform="translate(146.20 343.50) rotate(0.03) scale(1.06 1)">(d)</text>
</g>
<g id="plot-e">
<g fill="#00ffff">
<circle cx="254.7" cy="285.3" r="2.0"/>
<circle cx="274.3" cy="283.1" r="2.0"/>
<circle cx="276.8" cy="282.5" r="2.0"/>
<circle cx="279.9" cy="282.0" r="2.0"/>
<circle cx="283.0" cy="282.2" r="2.0"/>
<circle cx="269.6" cy="298.5" r="2.0"/>
<circle cx="271.2" cy="298.0" r="2.0"/>
<circle cx="275.6" cy="299.0" r="2.0"/>
<circle cx="282.2" cy="304.5" r="2.0"/>
<circle cx="257.0" cy="304.5" r="2.0"/>
<circle cx="266.5" cy="305.2" r="2.0"/>
<circle cx="269.1" cy="305.7" r="2.0"/>
<circle cx="271.2" cy="305.2" r="2.0"/>
<circle cx="272.2" cy="306.8" r="2.0"/>
<circle cx="269.6" cy="308.3" r="2.0"/>
<circle cx="270.6" cy="309.4" r="2.0"/>
<circle cx="268.1" cy="316.1" r="2.0"/>
<circle cx="289.5" cy="263.2" r="2.0"/>
<circle cx="289.5" cy="264.9" r="2.0"/>
<circle cx="303.2" cy="263.7" r="2.0"/>
<circle cx="306.6" cy="262.6" r="2.0"/>
<circle cx="312.5" cy="263.2" r="2.0"/>
<circle cx="312.5" cy="264.7" r="2.0"/>
<circle cx="294.5" cy="270.4" r="2.0"/>
<circle cx="295.0" cy="271.4" r="2.0"/>
<circle cx="302.5" cy="271.4" r="2.0"/>
<circle cx="280.5" cy="279.7" r="2.0"/>
<circle cx="291.4" cy="278.9" r="2.0"/>
<circle cx="296.0" cy="280.0" r="2.0"/>
<circle cx="302.5" cy="280.2" r="2.0"/>
<circle cx="256.5" cy="309.1" r="2.0"/>
<circle cx="253.0" cy="313.7" r="2.0"/>
<circle cx="258.4" cy="313.3" r="2.0"/>
<circle cx="256.9" cy="315.3" r="2.0"/>
<circle cx="265.0" cy="313.7" r="2.0"/>
<circle cx="263.1" cy="316.1" r="2.0"/>
<circle cx="260.0" cy="316.8" r="2.0"/>
<circle cx="261.5" cy="318.4" r="2.0"/>
<circle cx="254.6" cy="318.8" r="2.0"/>
<circle cx="256.9" cy="319.1" r="2.0"/>
<circle cx="259.2" cy="320.7" r="2.0"/>
<circle cx="241.0" cy="323.0" r="2.0"/>
<circle cx="243.7" cy="322.6" r="2.0"/>
<circle cx="246.1" cy="322.2" r="2.0"/>
<circle cx="248.4" cy="321.5" r="2.0"/>
<circle cx="250.7" cy="320.7" r="2.0"/>
<circle cx="252.6" cy="320.3" r="2.0"/>
<circle cx="254.9" cy="322.2" r="2.0"/>
<circle cx="257.3" cy="322.6" r="2.0"/>
<circle cx="260.0" cy="322.6" r="2.0"/>
<circle cx="261.9" cy="321.1" r="2.0"/>
<circle cx="249.9" cy="323.8" r="2.0"/>
<circle cx="252.2" cy="324.6" r="2.0"/>
<circle cx="254.6" cy="324.9" r="2.0"/>
<circle cx="244.5" cy="326.9" r="2.0"/>
<circle cx="246.8" cy="326.5" r="2.0"/>
<circle cx="249.1" cy="326.9" r="2.0"/>
<circle cx="251.5" cy="327.3" r="2.0"/>
<circle cx="239.1" cy="328.8" r="2.0"/>
<circle cx="237.2" cy="330.0" r="2.0"/>
<circle cx="243.7" cy="329.2" r="2.0"/>
<circle cx="246.1" cy="329.6" r="2.0"/>
<circle cx="248.4" cy="330.0" r="2.0"/>
<circle cx="250.7" cy="329.6" r="2.0"/>
<circle cx="240.6" cy="331.5" r="2.0"/>
<circle cx="243.0" cy="331.9" r="2.0"/>
<circle cx="245.3" cy="332.3" r="2.0"/>
<circle cx="247.6" cy="332.3" r="2.0"/>
<circle cx="249.9" cy="331.9" r="2.0"/>
<circle cx="237.5" cy="333.1" r="2.0"/>
<circle cx="239.9" cy="334.2" r="2.0"/>
<circle cx="242.2" cy="334.6" r="2.0"/>
<circle cx="244.5" cy="335.0" r="2.0"/>
<circle cx="251.5" cy="330.7" r="2.0"/>
<circle cx="236.8" cy="335.8" r="2.0"/>
<circle cx="236.0" cy="334.4" r="2.0"/>
<circle cx="233.3" cy="335.7" r="2.0"/>
<circle cx="236.0" cy="335.8" r="2.0"/>
<circle cx="239.3" cy="336.2" r="2.0"/>
<circle cx="241.2" cy="336.1" r="2.0"/>
<circle cx="244.1" cy="336.0" r="2.0"/>
<circle cx="230.0" cy="338.4" r="2.0"/>
<circle cx="231.2" cy="337.9" r="2.0"/>
<circle cx="233.3" cy="337.8" r="2.0"/>
<circle cx="235.4" cy="338.1" r="2.0"/>
<circle cx="237.6" cy="337.7" r="2.0"/>
<circle cx="239.7" cy="337.5" r="2.0"/>
<circle cx="241.3" cy="338.5" r="2.0"/>
<circle cx="243.4" cy="337.9" r="2.0"/>
<circle cx="229.7" cy="339.9" r="2.0"/>
<circle cx="231.8" cy="340.0" r="2.0"/>
<circle cx="233.5" cy="339.9" r="2.0"/>
<circle cx="236.0" cy="339.8" r="2.0"/>
<circle cx="237.8" cy="339.5" r="2.0"/>
<circle cx="239.9" cy="339.8" r="2.0"/>
<circle cx="241.2" cy="339.8" r="2.0"/>
<circle cx="229.8" cy="341.9" r="2.0"/>
<circle cx="232.1" cy="342.1" r="2.0"/>
<circle cx="233.6" cy="341.9" r="2.0"/>
<circle cx="235.9" cy="341.9" r="2.0"/>
<circle cx="237.9" cy="341.5" r="2.0"/>
<circle cx="239.6" cy="341.8" r="2.0"/>
<circle cx="229.6" cy="344.2" r="2.0"/>
<circle cx="231.5" cy="343.7" r="2.0"/>
<circle cx="233.9" cy="343.5" r="2.0"/>
<circle cx="236.0" cy="344.0" r="2.0"/>
<circle cx="237.3" cy="343.6" r="2.0"/>
<circle cx="229.9" cy="346.1" r="2.0"/>
<circle cx="232.1" cy="346.4" r="2.0"/>
<circle cx="234.1" cy="345.5" r="2.0"/>
<circle cx="235.9" cy="346.2" r="2.0"/>
<circle cx="227.7" cy="347.8" r="2.0"/>
<circle cx="229.7" cy="347.7" r="2.0"/>
<circle cx="227.9" cy="349.6" r="2.0"/>
<circle cx="229.2" cy="349.9" r="2.0"/>
<circle cx="225.3" cy="351.7" r="2.0"/>
<circle cx="227.6" cy="352.0" r="2.0"/>
<circle cx="224.0" cy="354.1" r="2.0"/>
<circle cx="225.9" cy="354.3" r="2.0"/>
<circle cx="227.3" cy="353.6" r="2.0"/>
<circle cx="221.7" cy="356.1" r="2.0"/>
<circle cx="224.0" cy="356.0" r="2.0"/>
<circle cx="226.0" cy="355.9" r="2.0"/>
<circle cx="331.6" cy="238.7" r="2.0"/>
<circle cx="323.9" cy="246.0" r="2.0"/>
<circle cx="290.5" cy="281.7" r="2.0"/>
<circle cx="292.8" cy="285.1" r="2.0"/>
<circle cx="220.7" cy="358.1" r="2.0"/>
<circle cx="222.0" cy="356.7" r="2.0"/>
<circle cx="223.3" cy="355.2" r="2.0"/>
<circle cx="224.6" cy="353.7" r="2.0"/>
<circle cx="225.9" cy="352.3" r="2.0"/>
<circle cx="227.2" cy="350.8" r="2.0"/>
</g>
<line x1="219.5" y1="359.5" x2="357.65" y2="203.44" stroke="#8c8c8c" stroke-width="0.65"/>
<rect x="219.5" y="200.9" width="140.4" height="158.6" fill="none" stroke="#222" stroke-width="1"/>
<text class="tk" transform="translate(219.50 369.80) rotate(0.03)" text-anchor="middle">0</text>
<text class="tk" transform="translate(214.50 361.80) rotate(0.03)" text-anchor="end">0</text>
<text class="tk" transform="translate(254.60 369.80) rotate(0.03)" text-anchor="middle">500</text>
<text class="tk" transform="translate(214.50 322.15) rotate(0.03)" text-anchor="end">500</text>
<text class="tk" transform="translate(289.70 369.80) rotate(0.03)" text-anchor="middle">1000</text>
<text class="tk" transform="translate(214.50 282.50) rotate(0.03)" text-anchor="end">1000</text>
<text class="tk" transform="translate(324.80 369.80) rotate(0.03)" text-anchor="middle">1500</text>
<text class="tk" transform="translate(214.50 242.85) rotate(0.03)" text-anchor="end">1500</text>
<text class="tk" transform="translate(359.90 369.80) rotate(0.03)" text-anchor="middle">2000</text>
<text class="tk" transform="translate(214.50 203.20) rotate(0.03)" text-anchor="end">2000</text>
<path d="M219.50 359.5v3.3M219.5 359.50h-3.3M237.05 359.5v1.8M219.5 339.68h-1.8M254.60 359.5v3.3M219.5 319.85h-3.3M272.15 359.5v1.8M219.5 300.02h-1.8M289.70 359.5v3.3M219.5 280.20h-3.3M307.25 359.5v1.8M219.5 260.38h-1.8M324.80 359.5v3.3M219.5 240.55h-3.3M342.35 359.5v1.8M219.5 220.72h-1.8M359.90 359.5v3.3M219.5 200.90h-3.3" stroke="#1a1a1a" stroke-width="0.9" fill="none"/>
<text class="ax" transform="translate(289.70 382.10) rotate(0.03)" text-anchor="middle">Actual Shear Measures</text>
<text class="ax" transform="translate(198.00 280.20) rotate(-89.97)" text-anchor="middle">Predicted Shear Measures</text>
<text class="tt" transform="translate(229.20 215.60) rotate(0.03) scale(1.08 1)" xml:space="preserve">This study Model</text>
<text class="tt" transform="translate(229.20 225.50) rotate(0.03) scale(1.08 1)">χ = 1.0430</text>
<text class="tt" transform="translate(229.20 234.20) rotate(0.03) scale(1.08 1)">COV = 0.2087</text>
<text class="lb" transform="translate(330.00 340.40) rotate(0.03) scale(1.06 1)">(e)</text>
</g>
</svg></body></html>
